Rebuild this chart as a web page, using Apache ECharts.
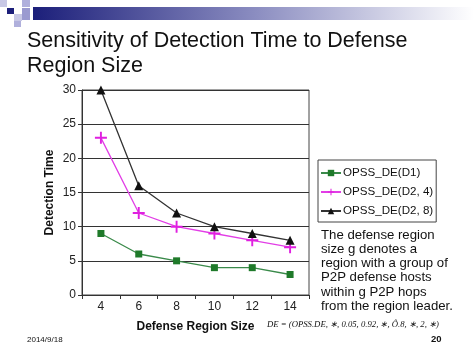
<!DOCTYPE html>
<html><head><meta charset="utf-8">
<script src="https://cdn.jsdelivr.net/npm/echarts@6/dist/echarts.min.js"></script>
<style>html,body{margin:0;padding:0;background:#fff}#c{width:474px;height:355px}</style>
</head><body><div id="c"></div>
<script>
const categories = ['4','6','8','10','12','14'];
const seriesNames = ['OPSS_DE(D1)','OPSS_DE(D2, 4)','OPSS_DE(D2, 8)'];
const d1 = [9, 6, 5, 4, 4, 3];
const d24 = [23, 12, 10, 9, 8, 7];
const d28 = [30, 16, 12, 10, 9, 8];
const yTicks = [0,5,10,15,20,25,30];

const plus = 'path://M4.2,0h1.6v4.2h4.2v1.6h-4.2v4.2h-1.6v-4.2h-4.2v-1.6h4.2z';
const font = 'Liberation Sans, Arial, sans-serif';
const chart = echarts.init(document.getElementById('c'));
chart.setOption({
  animation:false,
  backgroundColor:'#fff',
  grid:{left:82,top:90,width:227,height:205,show:true,borderColor:'#444',borderWidth:1,backgroundColor:'#fff'},
  xAxis:{type:'category',data:categories,boundaryGap:true,
    name:'Defense Region Size',nameLocation:'middle',nameGap:26,
    nameTextStyle:{fontFamily:font,fontWeight:'bold',fontSize:12,color:'#111'},
    axisLine:{lineStyle:{color:'#333'}},axisTick:{show:true,length:4,lineStyle:{color:'#333'}},
    axisLabel:{fontFamily:font,fontSize:12,color:'#222',margin:6}},
  yAxis:{type:'value',min:yTicks[0],max:yTicks[yTicks.length-1],interval:5,
    name:'Detection Time',nameLocation:'middle',nameGap:26,nameRotate:90,
    nameTextStyle:{fontFamily:font,fontWeight:'bold',fontSize:12,color:'#111'},
    axisLine:{show:true,lineStyle:{color:'#333'}},axisTick:{show:true,length:4,lineStyle:{color:'#333'}},
    axisLabel:{fontFamily:font,fontSize:12,color:'#222',margin:6},
    splitLine:{lineStyle:{color:'#333',width:1}}},
  legend:{orient:'vertical',left:318,top:160,itemWidth:20,itemHeight:8,itemGap:7,
    padding:[7,3,5,2],borderColor:'#444',borderWidth:1,
    textStyle:{fontFamily:font,fontSize:11.6,color:'#111',padding:[0,0,0,-3]},
    data:seriesNames},
  series:[
    {name:seriesNames[0],type:'line',data:d1,symbol:'rect',symbolSize:7,
      lineStyle:{color:'#3a8a4a',width:1.3},itemStyle:{color:'#1f7a2a'}},
    {name:seriesNames[1],type:'line',data:d24,symbol:plus,symbolSize:12,
      lineStyle:{color:'#e23ee6',width:1.3},itemStyle:{color:'#e020e0'}},
    {name:seriesNames[2],type:'line',data:d28,symbol:'triangle',symbolSize:9,
      lineStyle:{color:'#333',width:1.3},itemStyle:{color:'#111'}}
  ],
  graphic:[
    {type:'rect',shape:{x:33,y:7,width:441,height:13},style:{fill:new echarts.graphic.LinearGradient(0,0,1,0,[{offset:0,color:'#1c1f7a'},{offset:0.5,color:'#8a8cc0'},{offset:1,color:'#ffffff'}])}},
    {type:'rect',shape:{x:7,y:8,width:7,height:6},style:{fill:'#1c1f7a'}},
    {type:'rect',shape:{x:0,y:0,width:7,height:7},style:{fill:'#c8c8e6'}},
    {type:'rect',shape:{x:14,y:14,width:8,height:7},style:{fill:'#c8c8e6'}},
    {type:'rect',shape:{x:22,y:0,width:8,height:7},style:{fill:'#b0b0dc'}},
    {type:'rect',shape:{x:22,y:8,width:8,height:12},style:{fill:'#9a9ad0'}},
    {type:'rect',shape:{x:14,y:21,width:7,height:6},style:{fill:'#b0b0dc'}},
    {type:'text',left:27,top:29,style:{text:'Sensitivity of Detection Time to Defense\nRegion Size',font:'21.5px '+font,fill:'#111',lineHeight:25}},
    {type:'text',left:321,top:228,style:{text:'The defense region\nsize g denotes a\nregion with a group of\nP2P defense hosts\nwithin g P2P hops\nfrom the region leader.',font:'13.2px '+font,fill:'#111',lineHeight:14.2}},
    {type:'text',left:267,top:320,style:{text:'DE = (OPSS.DE, ∗, 0.05, 0.92, ∗, Ô.8, ∗, 2, ∗)',font:'italic 8.7px Liberation Serif, serif',fill:'#111'}},
    {type:'text',left:27,top:336,style:{text:'2014/9/18',font:'8px '+font,fill:'#111'}},
    {type:'text',left:431,top:334,style:{text:'20',font:'bold 9.5px '+font,fill:'#111'}}
  ]
});
</script></body></html>
